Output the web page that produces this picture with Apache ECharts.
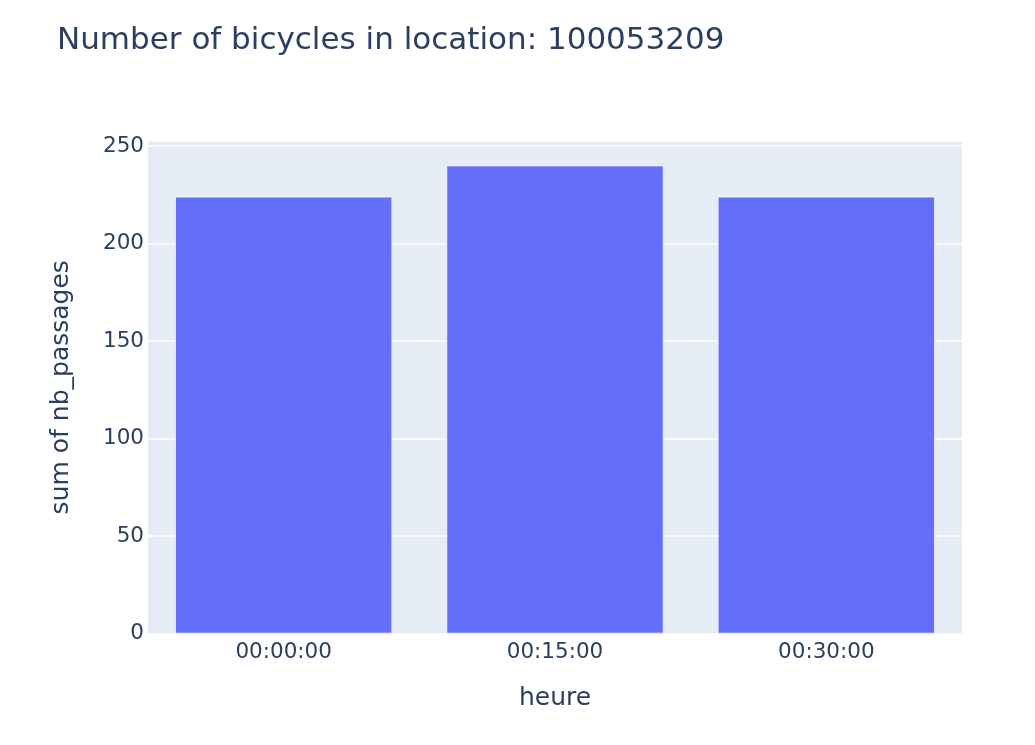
<!DOCTYPE html>
<html>
<head>
<meta charset="utf-8">
<script src="https://cdn.jsdelivr.net/npm/echarts@6/dist/echarts.min.js"></script>
<style>
html,body{margin:0;padding:0;background:#fff;}
#chart{width:1035px;height:745px;}
</style>
</head>
<body>
<div id="chart"></div>
<script>
const categories = ["00:00:00", "00:15:00", "00:30:00"];
const nbPassages = [224, 240, 224];
const yTicks = [0, 50, 100, 150, 200, 250];

const textColor = '#2a3f5f';
const font = '"DejaVu Sans", Verdana, sans-serif';
const chart = echarts.init(document.getElementById('chart'));
chart.setOption({
  animation: false,
  backgroundColor: '#ffffff',
  title: {
    text: 'Number of bicycles in location: 100053209',
    left: 52, top: 20,
    textStyle: {color: textColor, fontFamily: font, fontSize: 31, fontWeight: 'normal'}
  },
  grid: {
    left: 148, right: 73, top: 141, bottom: 111.5,
    show: true, backgroundColor: '#E5ECF6', borderWidth: 0
  },
  xAxis: {
    type: 'category',
    data: categories,
    name: 'heure',
    nameLocation: 'middle',
    nameGap: 52,
    nameTextStyle: {color: textColor, fontFamily: font, fontSize: 25},
    axisLine: {show: false},
    axisTick: {show: false},
    axisLabel: {color: textColor, fontFamily: font, fontSize: 21.5, margin: 8}
  },
  yAxis: {
    type: 'value',
    min: 0, max: 252.6, interval: 50,
    name: 'sum of nb_passages',
    nameLocation: 'middle',
    nameGap: 74,
    nameTextStyle: {color: textColor, fontFamily: font, fontSize: 25},
    axisLine: {show: false},
    axisTick: {show: false},
    axisLabel: {
      color: textColor, fontFamily: font, fontSize: 21.5, margin: 4,
      showMaxLabel: false,
      formatter: v => (yTicks.indexOf(v) >= 0 ? String(v) : '')
    },
    splitLine: {lineStyle: {color: '#ffffff', width: 1.5}}
  },
  series: [{
    type: 'bar',
    data: nbPassages,
    barCategoryGap: '20%',
    itemStyle: {color: '#636EFA', borderColor: '#ffffff', borderWidth: 0.7}
  }]
});
</script>
</body>
</html>
